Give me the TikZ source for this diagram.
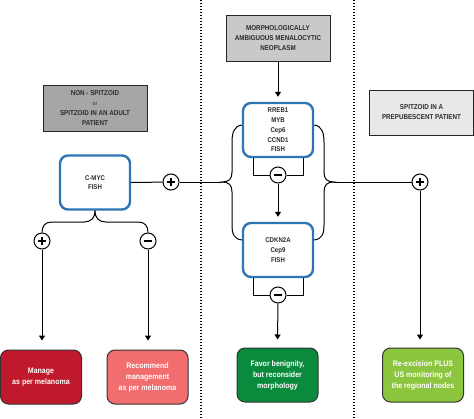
\documentclass[tikz,border=0pt]{standalone}
\usepackage{fontspec}
\setmainfont{Liberation Sans}[FakeStretch=0.88]
\usetikzlibrary{arrows.meta}
\definecolor{gA}{HTML}{C9C9C9}
\definecolor{gB}{HTML}{A6A6A6}
\definecolor{gC}{HTML}{E8E8E8}
\definecolor{bl}{HTML}{2E75B6}
\definecolor{rd}{HTML}{C0192B}
\definecolor{sal}{HTML}{F26D6D}
\definecolor{dg}{HTML}{0A8A3D}
\definecolor{lg}{HTML}{8CC63F}
\definecolor{txt}{HTML}{2A2A2A}
\tikzset{
  graybox/.style={draw=black!85, line width=1pt, align=center, inner sep=1pt,
    font=\bfseries\fontsize{7.1}{10}\selectfont, text=txt},
  bluebox/.style={draw=bl, fill=white, line width=2.4pt, rounded corners=8pt, align=center,
    inner sep=1pt, minimum width=70pt, minimum height=54pt,
    font=\bfseries\fontsize{6.9}{9.7}\selectfont, text=txt},
  endbox/.style={draw=black!80, line width=1pt, rounded corners=8pt, align=center,
    inner sep=1pt, minimum width=81pt, minimum height=54pt, text=white,
    font=\bfseries\fontsize{8}{11}\selectfont},
  sign/.style={circle, draw=black, fill=white, line width=1pt, minimum size=16pt, inner sep=0pt},
  plussign/.style={sign, path picture={\draw[line width=2pt]
      ([xshift=-4pt]path picture bounding box.center) -- ([xshift=4pt]path picture bounding box.center)
      ([yshift=-4pt]path picture bounding box.center) -- ([yshift=4pt]path picture bounding box.center);}},
  minussign/.style={sign, path picture={\draw[line width=2pt]
      ([xshift=-4pt]path picture bounding box.center) -- ([xshift=4pt]path picture bounding box.center);}},
  conn/.style={line width=1pt, black},
  arr/.style={conn, -{Triangle[length=5pt,width=6pt]}},
  sep/.style={line width=1.2pt, dash pattern=on 1.4pt off 1.6pt}
}
\begin{document}
\begin{tikzpicture}[x=1pt,y=-1pt]
\useasboundingbox (0,0) rectangle (474,418);
\coordinate (d1t) at (201,0); \coordinate (d1b) at (201,418);
\coordinate (d2t) at (354,0); \coordinate (d2b) at (354,418);
\draw[sep] (d1t) -- (d1b);
\draw[sep] (d2t) -- (d2b);

\node[graybox, fill=gA, minimum width=104pt, minimum height=46pt] (top) at (278,38)
  {MORPHOLOGICALLY\\AMBIGUOUS MENALOCYTIC\\NEOPLASM};
\node[graybox, fill=gB, minimum width=104pt, minimum height=46pt] (lgray) at (95,108)
  {NON - SPITZOID\\{\mdseries\fontsize{5.8}{10}\selectfont or}\\SPITZOID IN AN ADULT\\PATIENT};
\node[graybox, fill=gC, minimum width=104pt, minimum height=45pt] (rgray) at (421.5,112.5)
  {SPITZOID IN A\\PREPUBESCENT PATIENT};

\node[bluebox] (rreb) at (278,130) {RREB1\\MYB\\Cep6\\CCND1\\FISH};
\node[bluebox] (cmyc) at (95,182.5) {C-MYC\\FISH};
\node[bluebox] (cdkn) at (278,250) {CDKN2A\\Cep9\\FISH};

\node[endbox, fill=rd] (red) at (41,377) {Manage\\as per melanoma};
\node[endbox, fill=sal] (sal) at (147.5,377) {Recommend\\management\\as per melanoma};
\node[endbox, fill=dg] (grn) at (277.5,375) {Favor benignity,\\but reconsider\\morphology};
\node[endbox, fill=lg] (lgn) at (423,375) {Re-excision PLUS\\US monitoring of\\the regional nodes};

% signs
\node[plussign] (pm) at (171,182) {};
\node[plussign] (pr) at (420,182) {};
\node[plussign] (pl) at (42,241) {};
\node[minussign] (ml) at (148,241) {};
\node[minussign] (m1) at (278,175) {};
\node[minussign] (m2) at (278,295) {};

% braces tips
\coordinate (bl) at (222,182);
\coordinate (br) at (334,182);

% top arrow
\draw[arr, shorten >=5pt] (top.south) -- (rreb.north);

% left brace
\draw[conn] (rreb.west |- 0,125) .. controls (234,126) and (232,133) .. (232,142) -- (232,172)
  .. controls (232,179) and (229,182) .. (bl)
  .. controls (229,182) and (232,185) .. (232,192) -- (232,225)
  .. controls (232,234) and (234,239) .. (cdkn.west |- 0,240);
% right brace
\draw[conn] (rreb.east |- 0,125) .. controls (322,126) and (324,133) .. (324,142) -- (324,172)
  .. controls (324,179) and (327,182) .. (br)
  .. controls (327,182) and (324,185) .. (324,192) -- (324,225)
  .. controls (324,234) and (322,239) .. (cdkn.east |- 0,240);

% horizontal connections
\draw[conn] (cmyc.east) -- (pm);
\draw[conn] (pm) -- (bl);
\draw[conn] (br) -- (pr);
\draw[arr, shorten >=8pt] (pr) -- (pr |- lgn.north);

% bracket under RREB1
\draw[conn] (rreb.south -| 253,0) -- (253,175) -- (m1);
\draw[conn] (rreb.south -| 303,0) -- (303,175) -- (m1);
\draw[arr, shorten >=5pt] (m1) -- (cdkn.north);
% bracket under CDKN2A
\draw[conn] (cdkn.south -| 253,0) -- (253,295) -- (m2);
\draw[conn] (cdkn.south -| 303,0) -- (303,295) -- (m2);
\draw[arr, shorten >=8pt] (m2) -- (grn.north);

% C-MYC split
\draw[conn] (cmyc.south) .. controls (95,218) and (91,222) .. (84,222) -- (52,222)
  .. controls (45,222) and (42,226) .. (pl.north);
\draw[conn] (cmyc.south) .. controls (95,218) and (99,222) .. (106,222) -- (138,222)
  .. controls (145,222) and (148,226) .. (ml.north);
\draw[arr, shorten >=9pt] (pl) -- (pl |- red.north);
\draw[arr, shorten >=9pt] (ml) -- (ml |- sal.north);
\end{tikzpicture}
\end{document}
